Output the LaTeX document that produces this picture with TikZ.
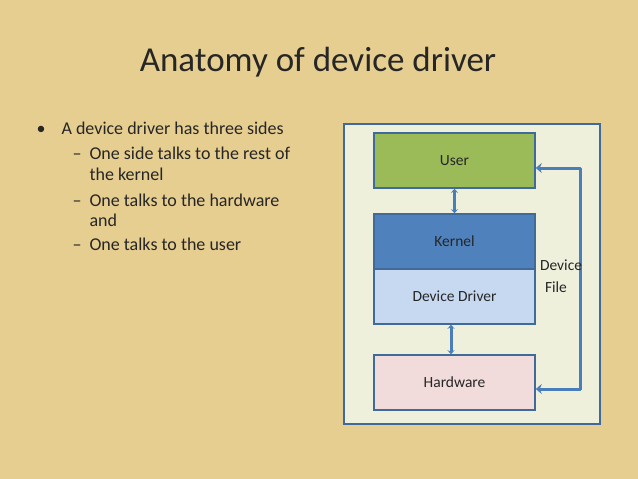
\documentclass[tikz,border=0pt]{standalone}
\usepackage{fontspec}
\setmainfont{Carlito}
\usetikzlibrary{arrows.meta}
\definecolor{bg}{HTML}{E6CD90}
\definecolor{frame}{HTML}{EEF0DC}
\definecolor{edge}{HTML}{3F6A99}
\definecolor{userc}{HTML}{9BBB59}
\definecolor{kernc}{HTML}{4F81BD}
\definecolor{drvc}{HTML}{C6D9F1}
\definecolor{hwc}{HTML}{F2DCDB}
\definecolor{arr}{HTML}{4A7EBB}
\tikzset{box/.style={draw=edge,line width=1.5pt,minimum width=161pt,minimum height=55pt,inner sep=0pt,font=\fontsize{15.5}{18}\selectfont,text=black!85},
 link/.style={arr,line width=3pt,{Stealth[length=4pt,width=7pt]}-{Stealth[length=4pt,width=7pt]}},
 btxt/.style={anchor=base west,font=\fontsize{18}{21}\selectfont,text=black!85}}
\begin{document}
\begin{tikzpicture}[x=1pt,y=-1pt]
\fill[bg] (0,0) rectangle (638,479);
\useasboundingbox (0,0) rectangle (638,479);
\node[text=black!85] (title) at (318,62) {\fontsize{35}{40}\selectfont Anatomy of device driver};
\node[btxt] (b0) at (33,134) {•};
\node[btxt] (b1) at (58,134) {A device driver has three sides};
\node[btxt] (b2) at (69,159) {–};
\node[btxt] (b2t) at (86,159) {One side talks to the rest of};
\node[btxt] (b2b) at (86,180) {the kernel};
\node[btxt] (b3) at (69,206) {–};
\node[btxt] (b3t) at (86,206) {One talks to the hardware};
\node[btxt] (b3b) at (86,226) {and};
\node[btxt] (b4) at (69,250) {–};
\node[btxt] (b4t) at (86,250) {One talks to the user};
\node[draw=edge,line width=1.5pt,fill=frame,minimum width=256pt,minimum height=300pt,inner sep=0pt] (frm) at (472,274) {};
\node[box,fill=userc] (user) at (454.5,160.5) {User};
\node[box,fill=kernc] (kern) at (454.5,241.5) {Kernel};
\node[box,fill=drvc] (drv) at (454.5,296.5) {Device Driver};
\node[box,fill=hwc] (hw) at (454.5,382.5) {Hardware};
\draw[link] (user.south) -- (kern.north);
\draw[link] (drv.south -| 451,0) -- (hw.north -| 451,0);
\coordinate (c1) at (580,168);
\coordinate (c2) at (580,389);
\draw[arr,line width=3pt,line join=round,{Stealth[length=6pt,width=10pt]}-{Stealth[length=6pt,width=10pt]}] (user.east |- c1) -- (c1) -- (c2) -- (hw.east |- c2);
\node[font=\fontsize{15.5}{18}\selectfont,text=black!85] (dev) at (561,265) {Device};
\node[font=\fontsize{15.5}{18}\selectfont,text=black!85] (file) at (556,287) {File};
\end{tikzpicture}
\end{document}
